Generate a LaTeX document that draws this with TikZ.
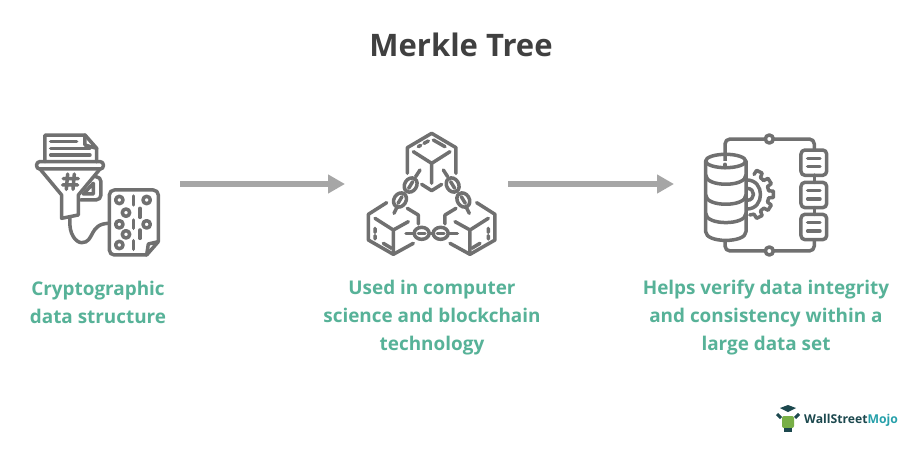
\documentclass[tikz,border=0pt]{standalone}
\usepackage{fontspec}
\setmainfont{Open Sans}
\usetikzlibrary{arrows.meta}
\definecolor{icongray}{RGB}{112,112,112}
\definecolor{arrowgray}{RGB}{166,166,166}
\definecolor{captionteal}{RGB}{87,178,152}
\definecolor{titledark}{RGB}{64,64,64}
\definecolor{mojodark}{RGB}{28,72,78}
\definecolor{mojoteal}{RGB}{38,160,170}
\definecolor{mojogreen}{RGB}{120,175,70}
\tikzset{
    caption/.style={text=captionteal,font=\fontsize{18.9}{28}\selectfont\bfseries,align=center},
    icon/.style={x=0.3333pt,y=-0.3333pt,draw=icongray,line width=3.5pt,line join=round,line cap=round},
    flow/.style={draw=arrowgray,line width=6pt,-{Triangle[length=17pt,width=18pt]}},
}
\begin{document}
\begin{tikzpicture}[x=1pt,y=-1pt]
    \useasboundingbox (0,0) rectangle (923,453);
    \fill[white] (0,0) rectangle (923,453);
    \node (title) at (461,45) {\fontsize{31}{36}\selectfont\bfseries\color{titledark}Merkle Tree};
    % funnel and documents
    \begin{scope}[shift={(20,120)},icon]
        \draw (75,125) -- (75,45) -- (195,45) -- (230,85) -- (230,125);
        \draw (195,45) -- (195,75) -- (230,85);
        \draw (92,65) -- (170,65) (92,85) -- (210,85) (92,105) -- (210,105);
        \draw[rounded corners=3pt] (50,125) rectangle (250,147);
        \draw (60,147) -- (125,225) -- (125,295) -- (175,285) -- (175,225) -- (240,147);
        \draw (143,162) -- (139,208) (163,162) -- (159,208) (130,176) -- (175,176) (128,195) -- (173,195);
        \draw[rounded corners=5pt] (225,170) -- (243,170) -- (243,240) -- (182,240);
        \draw (220,190) -- (190,222) -- (220,222) -- cycle;
        \draw (150,295) .. controls (145,345) and (170,368) .. (185,368)
            .. controls (225,368) and (205,310) .. (268,310);
        \draw[rounded corners=5pt] (380,405) -- (268,405) -- (268,210) -- (415,210) -- (415,365);
        \draw (415,365) -- (380,405) -- (385,372) -- cycle;
        \foreach \cx/\cy in {298/240,380/240,318/278,298/313,380/313,318/343,298/375}
            \draw (\cx,\cy) circle (3.7pt);
        \foreach \bx/\bt/\bb in {340/228/255,360/265/292,340/300/325,360/330/355,340/362/388}
            \draw (\bx,\bt) -- (\bx,\bb);
    \end{scope}
    % three blocks and chains
    \begin{scope}[shift={(350,125)},icon]
        \draw (172,145) -- (172,68) -- (245,25) -- (318,68) -- (318,145);
        \draw (190,80) -- (245,115) -- (300,80) (245,115) -- (245,175);
        \draw (215,178) -- (245,197) -- (275,178);
        \draw (205,65) -- (212,61) (222,55) -- (235,48) (250,45) -- (285,65);
        \foreach \mx/\sg in {0/1,490/-1} {
            \begin{scope}[xshift=\mx*0.3333pt,xscale=\sg]
                \draw (110,233) -- (55,268) -- (55,345) -- (130,388) -- (190,355);
                \draw (172,250) -- (205,270) -- (205,297);
                \draw (75,280) -- (130,315) -- (175,290) (130,315) -- (130,385);
                \draw (75,310) -- (75,322) (75,332) -- (75,342) (100,355) -- (125,370);
                \draw (210,135) -- (197,155) (132,265) -- (142,245);
                \draw[rotate around={58:(182,180)}] (182,180) ellipse (7.5pt and 6pt);
                \draw[rotate around={58:(150,225)}] (150,225) ellipse (7.5pt and 6pt);
                \draw (176,190) -- (188,170) (144,235) -- (156,215);
            \end{scope}
        }
        \draw (168,325) -- (322,325);
        \filldraw[fill=white] (215,325) ellipse (7.5pt and 6pt) (272,325) ellipse (7.5pt and 6pt);
        \draw (205,325) -- (225,325) (262,325) -- (282,325);
    \end{scope}
    % database, gear and blocks
    \begin{scope}[shift={(685,125)},icon]
        \draw[rounded corners=5pt] (120,118) -- (120,42) -- (388,42) -- (388,75);
        \draw[rounded corners=5pt] (120,335) -- (120,378) -- (388,378) -- (388,345);
        \draw (388,150) -- (388,172) (388,248) -- (388,268);
        \filldraw[fill=white] (253,42) circle (4pt) (253,378) circle (4pt);
        \foreach \by in {75,172,268} {
            \draw[rounded corners=4pt] (348,\by) rectangle ++(77,76);
            \draw (368,\by+25) -- (405,\by+25) (368,\by+50) -- (405,\by+50);
        }
        \foreach \ga in {-64,-32,0,32,64}
            \draw[shift={(190,208)}] (\ga-10:62) -- (\ga-7:76) -- (\ga+7:76) -- (\ga+10:62) -- (\ga+22:62);
        \draw (186,165) .. controls (240,165) and (240,252) .. (186,252);
        \draw (186,190) .. controls (212,190) and (212,226) .. (186,226);
        \filldraw[fill=white] (62,108) -- (62,320) .. controls (62,355) and (183,355) .. (183,320) -- (183,108);
        \draw (122,108) ellipse (20pt and 6.7pt);
        \draw (120,118) -- (120,128);
        \foreach \ky in {150,210,265}
            \draw (62,\ky) .. controls (62,\ky+37) and (183,\ky+37) .. (183,\ky);
    \end{scope}
    % arrows between the icons
    \coordinate (funnelout) at (180,184);
    \coordinate (chainin) at (345,184);
    \coordinate (chainout) at (508,184);
    \coordinate (dbin) at (674,184);
    \draw[flow] (funnelout) -- (chainin);
    \draw[flow] (chainout) -- (dbin);
    % captions
    \node[caption] (capa) at (98,302) {Cryptographic\\data structure};
    \node[caption] (capb) at (432,318) {Used in computer\\science and blockchain\\technology};
    \node[caption] (capc) at (766,318) {Helps verify data integrity\\and consistency within a\\large data set};
    % logo
    \begin{scope}[shift={(788,420)}]
        \fill[mojogreen,rounded corners=2pt] (-6,-4) rectangle (6,8);
        \draw[mojodark,line width=3pt] (-11,-6) -- (-7,-2) (11,-6) -- (7,-2);
        \fill[mojodark] (-8,-12) -- (0,-15) -- (8,-12) -- (0,-8) -- cycle;
        \fill[mojodark] (-4,8) rectangle (4,12);
    \end{scope}
    \node[anchor=west,inner sep=0pt] (logo) at (804,420) {\fontsize{12.2}{13}\selectfont\bfseries\color{mojodark}WallStreet\color{mojoteal}Mojo};
\end{tikzpicture}
\end{document}
